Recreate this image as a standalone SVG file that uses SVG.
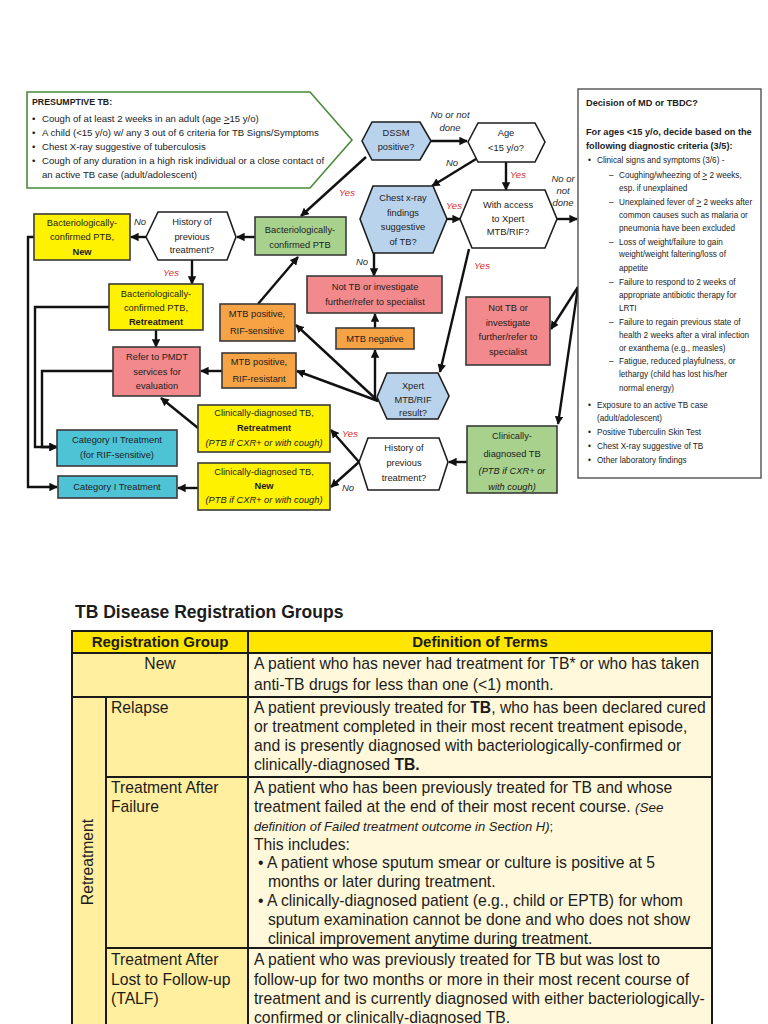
<svg xmlns="http://www.w3.org/2000/svg" width="768" height="1024" viewBox="0 0 768 1024">
<defs>
<style>
.f{font-family:"Liberation Sans",Arial,sans-serif;fill:#1c1c1c}
.c{text-anchor:middle}
.s{font-size:9.3px}
.p{font-size:9.6px}
.r{font-size:8.2px}
.b{font-weight:bold}
.i{font-style:italic}
.lbl{font-size:9.5px;font-style:italic;text-anchor:middle;fill:#2a2a2a}
.red{fill:#E0262C}
.bx{stroke:#3a3a3a;stroke-width:1.6}
.hx{stroke:#1e1e1e;stroke-width:1.6}
.yel{fill:#FFF200}
.grn{fill:#A9D18E}
.org{fill:#F6A346}
.pnk{fill:#F28A8D}
.cyn{fill:#4EC3D6}
.blu{fill:#BAD3EC}
.wht{fill:#FFFFFF}
.cn line,.cn path{stroke:#111;stroke-width:2.4;fill:none;marker-end:url(#ah)}
.tb{font-size:15.7px}
.th{font-size:15px;font-weight:bold}
.grid{stroke:#1a1a1a;stroke-width:2;fill:none}
</style>
<marker id="ah" viewBox="0 0 10 10" refX="9" refY="5" markerWidth="8.5" markerHeight="8.5" markerUnits="userSpaceOnUse" orient="auto">
<path d="M0,0 L10,5 L0,10 z" fill="#111"/>
</marker>
</defs>
<rect width="768" height="1024" fill="#FFFFFF"/>

<!-- connectors -->
<g id="connectors" class="cn">
<line x1="431" y1="141" x2="467" y2="141"/>
<line x1="476" y1="159" x2="432" y2="186"/>
<line x1="506" y1="162" x2="506" y2="190"/>
<line x1="366" y1="157" x2="301" y2="216"/>
<line x1="447" y1="219" x2="460" y2="219"/>
<line x1="557" y1="219" x2="577" y2="219"/>
<line x1="374" y1="253" x2="374" y2="276"/>
<line x1="469" y1="249" x2="440" y2="372"/>
<line x1="375" y1="398" x2="375" y2="350"/>
<line x1="375" y1="328" x2="375" y2="314"/>
<line x1="378" y1="401" x2="296" y2="325"/>
<line x1="378" y1="401" x2="297" y2="371"/>
<line x1="258" y1="304" x2="298" y2="257"/>
<line x1="255" y1="237" x2="237" y2="237"/>
<line x1="146" y1="237" x2="131" y2="237"/>
<line x1="192" y1="260" x2="192" y2="284"/>
<line x1="156" y1="330" x2="156" y2="347"/>
<line x1="222" y1="371" x2="201" y2="371"/>
<path d="M34,237 H28 V487 H57"/>
<path d="M109,307 H35 V447 H57"/>
<path d="M113,371 H42 V447 H57"/>
<line x1="578" y1="287" x2="551" y2="329"/>
<line x1="578" y1="287" x2="558" y2="424"/>
<line x1="467" y1="462" x2="449" y2="462"/>
<line x1="359" y1="462" x2="331" y2="430"/>
<line x1="359" y1="462" x2="331" y2="487"/>
<line x1="198" y1="428" x2="161" y2="398"/>
<line x1="198" y1="488" x2="178" y2="488"/>
</g>

<!-- connector labels -->
<g id="labels">
<text class="f lbl" x="450" y="118">No or not</text>
<text class="f lbl" x="450" y="131">done</text>
<text class="f lbl" x="452" y="166">No</text>
<text class="f lbl red" x="518" y="178">Yes</text>
<text class="f lbl red" x="347" y="196">Yes</text>
<text class="f lbl red" x="454" y="209">Yes</text>
<text class="f lbl" x="563" y="182">No or</text>
<text class="f lbl" x="563" y="194">not</text>
<text class="f lbl" x="563" y="206">done</text>
<text class="f lbl" x="362" y="265">No</text>
<text class="f lbl red" x="482" y="269">Yes</text>
<text class="f lbl" x="140" y="225">No</text>
<text class="f lbl red" x="171" y="276">Yes</text>
<text class="f lbl red" x="350" y="437">Yes</text>
<text class="f lbl" x="348" y="491">No</text>
</g>

<!-- nodes -->
<g id="presumptive">
<polygon points="27,92 310,92 352,140 310,188 27,188" fill="#FFFFFF" stroke="#4A8A3A" stroke-width="1.6"/>
<text class="f b" style="font-size:8.8px" x="32" y="105">PRESUMPTIVE TB:</text>
<text class="f p" x="32" y="122">•</text>
<text class="f p" x="42" y="122">Cough of at least 2 weeks in an adult (age <tspan text-decoration="underline">&gt;</tspan>15 y/o)</text>
<text class="f p" x="32" y="136">•</text>
<text class="f p" x="42" y="136">A child (&lt;15 y/o) w/ any 3 out of 6 criteria for TB Signs/Symptoms</text>
<text class="f p" x="32" y="150">•</text>
<text class="f p" x="42" y="150">Chest X-ray suggestive of tuberculosis</text>
<text class="f p" x="32" y="164">•</text>
<text class="f p" x="42" y="164">Cough of any duration in a high risk individual or a close contact of</text>
<text class="f p" x="42" y="178">an active TB case (adult/adolescent)</text>
</g>

<g id="dssm">
<polygon class="blu hx" points="362,141 372,122 420,122 431,141 420,160 372,160"/>
<text class="f s c" x="396" y="136">DSSM</text>
<text class="f s c" x="396" y="150">positive?</text>
</g>

<g id="age">
<polygon class="wht hx" points="468,142 478,123 535,123 545,142 535,162 478,162"/>
<text class="f s c" x="506" y="136">Age</text>
<text class="f s c" x="506" y="151">&lt;15 y/o?</text>
</g>

<g id="chest">
<polygon class="blu hx" points="360,219 373,186 433,186 447,219 433,253 373,253"/>
<text class="f s c" x="403" y="201">Chest x-ray</text>
<text class="f s c" x="403" y="215.5">findings</text>
<text class="f s c" x="403" y="230">suggestive</text>
<text class="f s c" x="403" y="244.5">of TB?</text>
</g>

<g id="access">
<polygon class="wht hx" points="460,219 472,190 545,190 557,219 545,248 472,248"/>
<text class="f s c" x="508" y="208">With access</text>
<text class="f s c" x="508" y="221.5">to Xpert</text>
<text class="f s c" x="508" y="235">MTB/RIF?</text>
</g>

<g id="decision">
<rect x="578" y="89" width="183" height="389" fill="#FFFFFF" stroke="#444" stroke-width="1.3"/>
<text class="f b" style="font-size:9.2px" x="586" y="106">Decision of MD or TBDC?</text>
<text class="f b" style="font-size:9.2px" x="586" y="135">For ages &lt;15 y/o, decide based on the</text>
<text class="f b" style="font-size:9.2px" x="586" y="149">following diagnostic criteria (3/5):</text>
<text class="f r" x="588" y="163">•</text>
<text class="f r" x="597" y="163">Clinical signs and symptoms (3/6) -</text>
<text class="f r" x="609" y="178">–</text>
<text class="f r" x="619" y="178">Coughing/wheezing of <tspan text-decoration="underline">&gt;</tspan> 2 weeks,</text>
<text class="f r" x="619" y="191">esp. if unexplained</text>
<text class="f r" x="609" y="205">–</text>
<text class="f r" x="619" y="205">Unexplained fever of <tspan text-decoration="underline">&gt;</tspan> 2 weeks after</text>
<text class="f r" x="619" y="218">common causes such as malaria or</text>
<text class="f r" x="619" y="231">pneumonia have been excluded</text>
<text class="f r" x="609" y="245">–</text>
<text class="f r" x="619" y="245">Loss of weight/failure to gain</text>
<text class="f r" x="619" y="257">weight/weight faltering/loss of</text>
<text class="f r" x="619" y="271">appetite</text>
<text class="f r" x="609" y="285">–</text>
<text class="f r" x="619" y="285">Failure to respond to 2 weeks of</text>
<text class="f r" x="619" y="298">appropriate antibiotic therapy for</text>
<text class="f r" x="619" y="311">LRTI</text>
<text class="f r" x="609" y="325">–</text>
<text class="f r" x="619" y="325">Failure to regain previous state of</text>
<text class="f r" x="619" y="338">health 2 weeks after a viral infection</text>
<text class="f r" x="619" y="351">or exanthema (e.g., measles)</text>
<text class="f r" x="609" y="364">–</text>
<text class="f r" x="619" y="364">Fatigue, reduced playfulness, or</text>
<text class="f r" x="619" y="377">lethargy (child has lost his/her</text>
<text class="f r" x="619" y="391">normal energy)</text>
<text class="f r" x="588" y="408">•</text>
<text class="f r" x="597" y="408">Exposure to an active TB case</text>
<text class="f r" x="597" y="421">(adult/adolescent)</text>
<text class="f r" x="588" y="435">•</text>
<text class="f r" x="597" y="435">Positive Tuberculin Skin Test</text>
<text class="f r" x="588" y="449">•</text>
<text class="f r" x="597" y="449">Chest X-ray suggestive of TB</text>
<text class="f r" x="588" y="463">•</text>
<text class="f r" x="597" y="463">Other laboratory findings</text>
</g>

<g id="bc-ptb">
<rect class="grn bx" x="255" y="217" width="91" height="38"/>
<text class="f s c" x="300" y="233">Bacteriologically-</text>
<text class="f s c" x="300" y="248">confirmed PTB</text>
</g>

<g id="history1">
<polygon class="wht hx" points="146,237 158,212 227,212 236,237 227,260 158,260"/>
<text class="f s c" x="192" y="225">History of</text>
<text class="f s c" x="192" y="240">previous</text>
<text class="f s c" x="192" y="253">treatment?</text>
</g>

<g id="bc-new">
<rect class="yel bx" x="34" y="214" width="96" height="46"/>
<text class="f s c" x="82" y="226">Bacteriologically-</text>
<text class="f s c" x="82" y="240">confirmed PTB,</text>
<text class="f s c b" x="82" y="255">New</text>
</g>

<g id="bc-retreat">
<rect class="yel bx" x="109" y="284" width="94" height="46"/>
<text class="f s c" x="156" y="297">Bacteriologically-</text>
<text class="f s c" x="156" y="311">confirmed PTB,</text>
<text class="f s c b" x="156" y="325">Retreatment</text>
</g>

<g id="refer-pmdt">
<rect class="pnk bx" x="113" y="347" width="87" height="49"/>
<text class="f s c" x="157" y="360">Refer to PMDT</text>
<text class="f s c" x="157" y="375">services for</text>
<text class="f s c" x="157" y="389">evaluation</text>
</g>

<g id="mtb-sens">
<rect class="org bx" x="220" y="304" width="75" height="37"/>
<text class="f s c" x="257" y="317">MTB positive,</text>
<text class="f s c" x="257" y="334">RIF-sensitive</text>
</g>

<g id="mtb-res">
<rect class="org bx" x="222" y="353" width="74" height="35"/>
<text class="f s c" x="259" y="365">MTB positive,</text>
<text class="f s c" x="259" y="382">RIF-resistant</text>
</g>

<g id="mtb-neg">
<rect class="org bx" x="336" y="328" width="78" height="21"/>
<text class="f s c" x="375" y="342">MTB negative</text>
</g>

<g id="not-tb-1">
<rect class="pnk bx" x="307" y="276" width="135" height="37"/>
<text class="f s c" x="375" y="290">Not TB or investigate</text>
<text class="f s c" x="375" y="305">further/refer to specialist</text>
</g>

<g id="xpert">
<polygon class="blu hx" points="377,397 387,373 438,373 449,396 438,419 387,419"/>
<text class="f s c" x="413" y="389">Xpert</text>
<text class="f s c" x="413" y="403">MTB/RIF</text>
<text class="f s c" x="413" y="416">result?</text>
</g>

<g id="not-tb-2">
<rect class="pnk bx" x="466" y="297" width="84" height="68"/>
<text class="f s c" x="508" y="311">Not TB or</text>
<text class="f s c" x="508" y="326">investigate</text>
<text class="f s c" x="508" y="340">further/refer to</text>
<text class="f s c" x="508" y="355">specialist</text>
</g>

<g id="clin-dx">
<rect class="grn bx" x="467" y="426" width="90" height="67"/>
<text class="f s c" x="512" y="439">Clinically-</text>
<text class="f s c" x="512" y="457">diagnosed TB</text>
<text class="f s c i" x="512" y="474">(PTB if CXR+ or</text>
<text class="f s c i" x="512" y="490">with cough)</text>
</g>

<g id="history2">
<polygon class="wht hx" points="359,462 368,438 439,438 448,462 439,490 368,490"/>
<text class="f s c" x="404" y="451">History of</text>
<text class="f s c" x="404" y="466">previous</text>
<text class="f s c" x="404" y="481">treatment?</text>
</g>

<g id="clin-retreat">
<rect class="yel bx" x="198" y="405" width="132" height="47"/>
<text class="f s c" x="264" y="416">Clinically-diagnosed TB,</text>
<text class="f s c b" x="264" y="431">Retreatment</text>
<text class="f s c i" x="264" y="446">(PTB if CXR+ or with cough)</text>
</g>

<g id="clin-new">
<rect class="yel bx" x="198" y="463" width="132" height="47"/>
<text class="f s c" x="264" y="475">Clinically-diagnosed TB,</text>
<text class="f s c b" x="264" y="489">New</text>
<text class="f s c i" x="264" y="503">(PTB if CXR+ or with cough)</text>
</g>

<g id="cat2">
<rect class="cyn bx" x="57" y="430" width="120" height="36"/>
<text class="f s c" x="117" y="443">Category II Treatment</text>
<text class="f s c" x="117" y="458">(for RIF-sensitive)</text>
</g>

<g id="cat1">
<rect class="cyn bx" x="58" y="476" width="119" height="22"/>
<text class="f s c" x="117" y="490">Category I Treatment</text>
</g>

<!-- table -->
<g id="table">
<text class="f b" style="font-size:17.5px" x="75" y="618">TB Disease Registration Groups</text>
<rect x="72" y="631" width="640" height="22" fill="#FFE600"/>
<rect x="72" y="653" width="176" height="44" fill="#FFEF9F"/>
<rect x="248" y="653" width="464" height="44" fill="#FFF8DA"/>
<rect x="72" y="697" width="176" height="340" fill="#FFEF9F"/>
<rect x="248" y="697" width="464" height="340" fill="#FFF8DA"/>
<rect class="grid" x="72" y="631" width="640" height="406" stroke-width="2.4"/>
<line class="grid" x1="248" y1="631" x2="248" y2="1037"/>
<line class="grid" x1="72" y1="653" x2="712" y2="653"/>
<line class="grid" x1="72" y1="697" x2="712" y2="697" stroke-width="2.6"/>
<line class="grid" x1="106" y1="697" x2="106" y2="1037"/>
<line class="grid" x1="106" y1="777" x2="712" y2="777"/>
<line class="grid" x1="106" y1="948" x2="712" y2="948" stroke-width="2.6"/>

<text class="f th c" x="160" y="647">Registration Group</text>
<text class="f th c" x="480" y="647">Definition of Terms</text>

<text class="f tb c" x="160" y="669">New</text>
<text class="f tb" x="254" y="669">A patient who has never had treatment for TB* or who has taken</text>
<text class="f tb" x="254" y="690">anti-TB drugs for less than one (&lt;1) month.</text>

<text class="f tb c" transform="translate(93,862) rotate(-90)">Retreatment</text>

<text class="f tb" x="111" y="713">Relapse</text>
<text class="f tb" x="254" y="713">A patient previously treated for <tspan font-weight="bold">TB</tspan>, who has been declared cured</text>
<text class="f tb" x="254" y="732">or treatment completed in their most recent treatment episode,</text>
<text class="f tb" x="254" y="751">and is presently diagnosed with bacteriologically-confirmed or</text>
<text class="f tb" x="254" y="770">clinically-diagnosed <tspan font-weight="bold">TB.</tspan></text>

<text class="f tb" x="111" y="793">Treatment After</text>
<text class="f tb" x="111" y="812">Failure</text>
<text class="f tb" x="254" y="793">A patient who has been previously treated for TB and whose</text>
<text class="f tb" x="254" y="812">treatment failed at the end of their most recent course. <tspan font-style="italic" font-size="13.5px">(See</tspan></text>
<text class="f i" style="font-size:13px" x="254" y="831">definition of Failed treatment outcome in Section H)<tspan font-style="normal">;</tspan></text>
<text class="f tb" x="254" y="850">This includes:</text>
<text class="f tb" x="258" y="868">• A patient whose sputum smear or culture is positive at 5</text>
<text class="f tb" x="268" y="887">months or later during treatment.</text>
<text class="f tb" x="258" y="906">• A clinically-diagnosed patient (e.g., child or EPTB) for whom</text>
<text class="f tb" x="268" y="925">sputum examination cannot be done and who does not show</text>
<text class="f tb" x="268" y="944">clinical improvement anytime during treatment.</text>

<text class="f tb" x="111" y="965">Treatment After</text>
<text class="f tb" x="111" y="985">Lost to Follow-up</text>
<text class="f tb" x="111" y="1004">(TALF)</text>
<text class="f tb" x="254" y="965">A patient who was previously treated for TB but was lost to</text>
<text class="f tb" x="254" y="985">follow-up for two months or more in their most recent course of</text>
<text class="f tb" x="254" y="1004">treatment and is currently diagnosed with either bacteriologically-</text>
<text class="f tb" x="254" y="1023">confirmed or clinically-diagnosed TB.</text>
</g>
</svg>
